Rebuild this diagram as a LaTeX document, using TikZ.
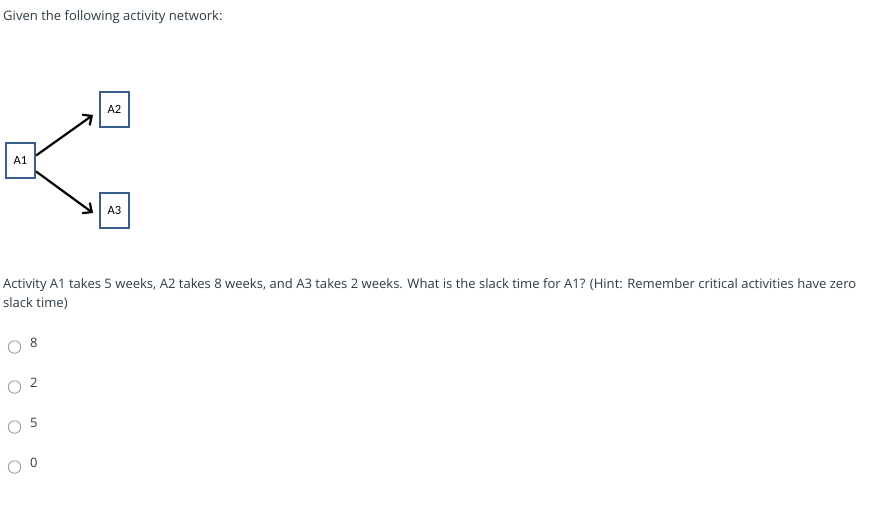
\documentclass[tikz,border=0pt]{standalone}
\usepackage{fontspec}
\setmainfont{Open Sans}
\newfontfamily\boxfont{Carlito}
\usetikzlibrary{arrows.meta}
\definecolor{boxblue}{HTML}{3A5E8C}
\definecolor{txt}{HTML}{2D3B45}
\begin{document}
\begin{tikzpicture}[x=1pt,y=-1pt,
  txtnode/.style={anchor=base west,inner sep=0pt,font=\fontsize{13.05}{15}\selectfont,text=txt},
  act/.style={draw=boxblue,line width=2.2pt,fill=white,minimum width=29pt,minimum height=35pt,inner sep=0pt,font=\boxfont\fontsize{12.5}{14}\selectfont},
  arr/.style={line width=2.2pt,-{Straight Barb[length=7pt,width=13pt,line width=2.2pt]}},
  radio/.style={circle,draw=gray!80,line width=0.8pt,minimum size=12.5pt,inner sep=0pt},
  opt/.style={anchor=base west,inner sep=0pt,font=\fontsize{13}{15}\selectfont,text=txt}]
\useasboundingbox (0,0) rectangle (876,507);
\node[txtnode] (title) at (3,20) {Given the following activity network:};
\node[act] (A1) at (20.5,160.5) {A1};
\node[act] (A2) at (114.5,109.5) {A2};
\node[act] (A3) at (114.5,210.5) {A3};
\draw[arr] (A1.east) ++(0,-5) coordinate (s1) -- (93,115) coordinate (e1);
\draw[arr] (A1.east) ++(0,11) coordinate (s2) -- (93,213) coordinate (e2);
\node[txtnode] (q1) at (3,288) {Activity A1 takes 5 weeks, A2 takes 8 weeks, and A3 takes 2 weeks. What is the slack time for A1? (Hint: Remember critical activities have zero};
\node[txtnode] (q2) at (3,307) {slack time)};
\foreach \y/\v [count=\i] in {346/8,386/2,426/5,466/0}{
  \node[radio] (r\i) at (14.5,\y+1) {};
  \node[opt] (o\i) at (30,\y+1) {\v};
}
\end{tikzpicture}
\end{document}
